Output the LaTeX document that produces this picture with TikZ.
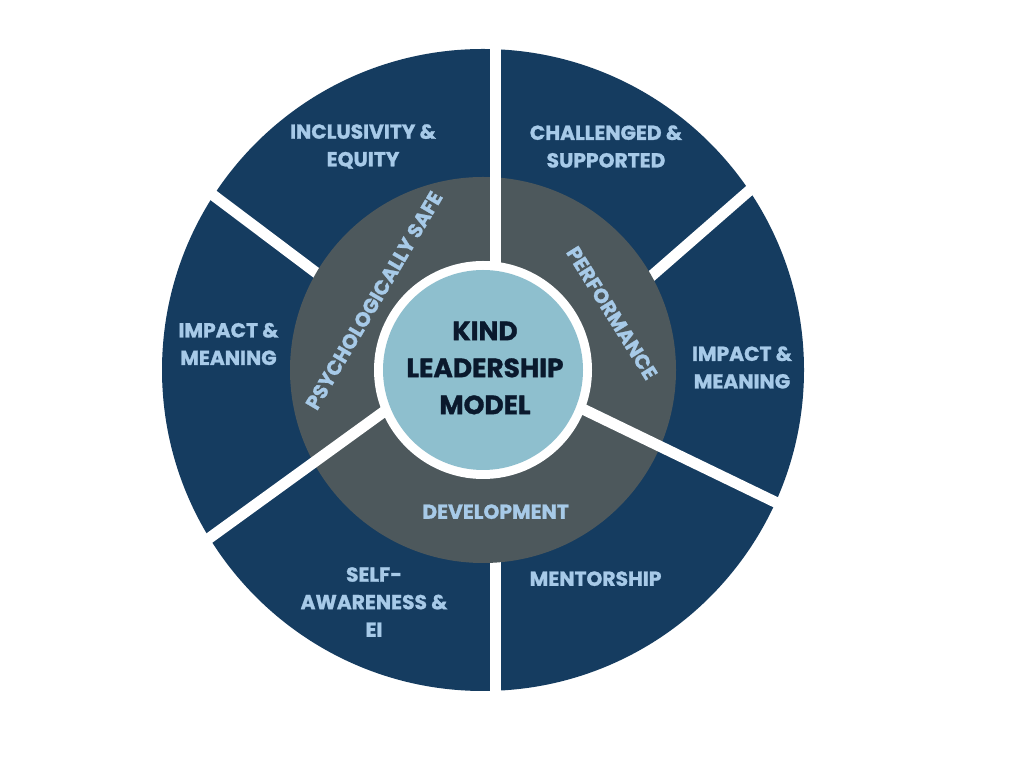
\documentclass[tikz,border=0pt]{standalone}
\usepackage{fontspec}
\setmainfont{Poppins}[BoldFeatures={FakeBold=1.2}]
\definecolor{navy}{HTML}{153C60}
\definecolor{ringgrey}{HTML}{4D585C}
\definecolor{coreblue}{HTML}{8EBFCE}
\definecolor{lbltext}{HTML}{A7CAE8}
\definecolor{ctrtext}{HTML}{0A192D}
\begin{document}
\begin{tikzpicture}[x=0.025cm,y=0.025cm,
  seg/.style={white, line width=0.275cm},
  lbl/.style={text=lbltext, font=\bfseries\fontsize{14.4}{19.6}\selectfont, align=center, inner sep=0pt},
  ctr/.style={text=ctrtext, font=\bfseries\fontsize{18.8}{26.3}\selectfont, align=center, inner sep=0pt}]
\useasboundingbox (0,0) rectangle (1024,768);
\coordinate (O) at (483,398);
% outer ring
\fill[navy] (O) circle (321);
% separators of the outer ring only
\coordinate (ur1) at (600,447); \coordinate (ur2) at (766,592);
\coordinate (ul1) at (371,454); \coordinate (ul2) at (189,591);
\coordinate (bv1) at (495,268); \coordinate (bv2) at (495,63);
\draw[seg] (ur1) -- (ur2);
\draw[seg] (ul1) -- (ul2);
\draw[seg] (bv1) -- (bv2);
% middle ring
\fill[ringgrey] (O) circle (193);
% separators through both rings
\coordinate (tv1) at (495,468); \coordinate (tv2) at (495,733);
\coordinate (ll1) at (440,397); \coordinate (ll2) at (186,213);
\coordinate (lr1) at (531,384); \coordinate (lr2) at (802,253);
\draw[seg] (tv1) -- (tv2);
\draw[seg] (ll1) -- (ll2);
\draw[seg] (lr1) -- (lr2);
% core
\fill[white] (O) circle (109);
\fill[coreblue] (O) circle (100);
% labels
\node[ctr] (core) at (485,400) {KIND\\LEADERSHIP\\MODEL};
\node[lbl] (incl) at (363,621.5) {INCLUSIVITY \&\\EQUITY};
\node[lbl] (chal) at (606,621.5) {CHALLENGED \&\\SUPPORTED};
\node[lbl] (impl) at (228.5,424) {IMPACT \&\\MEANING};
\node[lbl] (impr) at (742,400.5) {IMPACT \&\\MEANING};
\node[lbl] (self) at (374,166) {SELF-\\AWARENESS \&\\EI};
\node[lbl] (ment) at (595.6,189.3) {MENTORSHIP};
\node[lbl] (dev) at (495.6,256.3) {DEVELOPMENT};
\node[lbl, rotate=59.5] (psy) at (374,467.5) {PSYCHOLOGICALLY SAFE};
\node[lbl, rotate=-58] (perf) at (612,455) {PERFORMANCE};
\end{tikzpicture}
\end{document}
